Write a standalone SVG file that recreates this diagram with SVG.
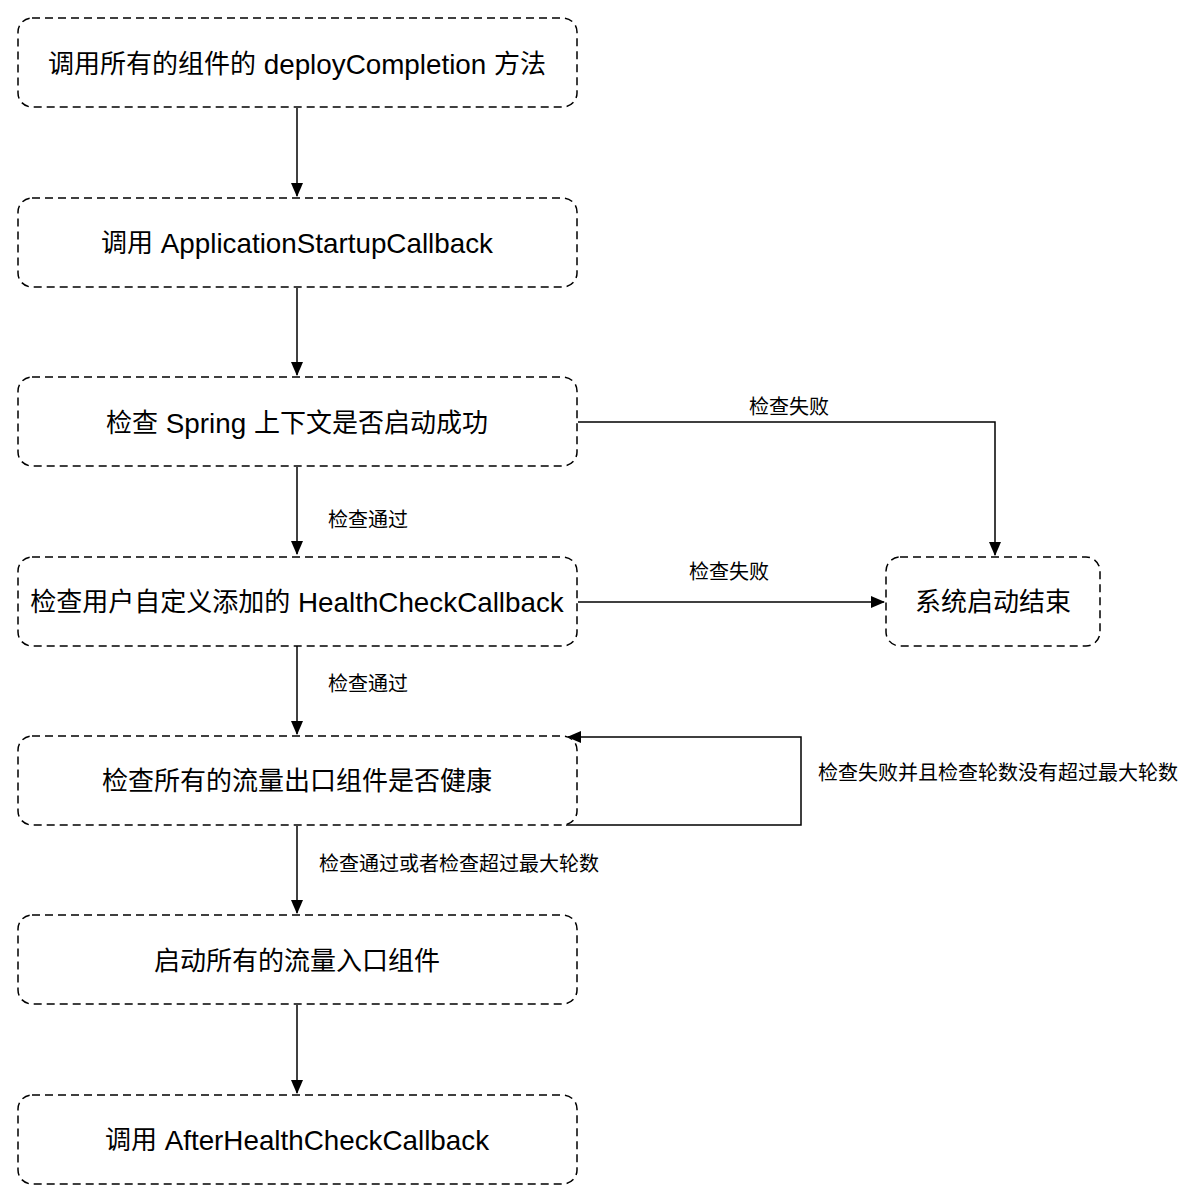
<svg xmlns="http://www.w3.org/2000/svg" width="1200" height="1203" viewBox="0 0 1200 1203">
<defs>
<style>
.box{fill:#fff;stroke:#000;stroke-width:1.5;stroke-dasharray:8 5}
.t{font-family:"Liberation Sans","Noto Sans CJK SC",sans-serif;font-size:26px;fill:#000;text-anchor:middle;dominant-baseline:central}
.la{font-size:27.8px}
.l{font-family:"Liberation Sans","Noto Sans CJK SC",sans-serif;font-size:20px;fill:#000;dominant-baseline:central}
.e{fill:none;stroke:#000;stroke-width:1.5}
</style>
<marker id="ah" markerWidth="14" markerHeight="14" viewBox="0 0 14 14" refX="13" refY="7" orient="auto" markerUnits="userSpaceOnUse">
<path d="M0,1 L14,7 L0,13 Z" fill="#000"/>
</marker>
</defs>
<rect width="1200" height="1203" fill="#fff"/>
<g id="connectors">
<path class="e" d="M297,108 V196" marker-end="url(#ah)"/>
<path class="e" d="M297,288 V375" marker-end="url(#ah)"/>
<path class="e" d="M297,467 V554" marker-end="url(#ah)"/>
<path class="e" d="M297,646 V734" marker-end="url(#ah)"/>
<path class="e" d="M297,826 V913" marker-end="url(#ah)"/>
<path class="e" d="M297,1005 V1093" marker-end="url(#ah)"/>
<path class="e" d="M578,422 H995 V555" marker-end="url(#ah)"/>
<path class="e" d="M578,602 H884" marker-end="url(#ah)"/>
<path class="e" d="M566,825 H801 V737 H568" marker-end="url(#ah)"/>
<text class="l" x="789" y="407" text-anchor="middle">检查失败</text>
<text class="l" x="729" y="572" text-anchor="middle">检查失败</text>
<text class="l" x="328" y="520">检查通过</text>
<text class="l" x="328" y="684">检查通过</text>
<text class="l" x="319" y="864">检查通过或者检查超过最大轮数</text>
<text class="l" x="818" y="773">检查失败并且检查轮数没有超过最大轮数</text>
</g>
<g id="n1"><rect class="box" x="18" y="18" width="559" height="89" rx="14"/><text class="t" x="297" y="64">调用所有的组件的<tspan class="la"> deployCompletion </tspan>方法</text></g>
<g id="n2"><rect class="box" x="18" y="198" width="559" height="89" rx="14"/><text class="t" x="297" y="243">调用<tspan class="la"> ApplicationStartupCallback</tspan></text></g>
<g id="n3"><rect class="box" x="18" y="377" width="559" height="89" rx="14"/><text class="t" x="297" y="423">检查<tspan class="la"> Spring </tspan>上下文是否启动成功</text></g>
<g id="n4"><rect class="box" x="18" y="557" width="559" height="89" rx="14"/><text class="t" x="297" y="602">检查用户自定义添加的<tspan class="la"> HealthCheckCallback</tspan></text></g>
<g id="n5"><rect class="box" x="18" y="736" width="559" height="89" rx="14"/><text class="t" x="297" y="781">检查所有的流量出口组件是否健康</text></g>
<g id="n6"><rect class="box" x="18" y="915" width="559" height="89" rx="14"/><text class="t" x="297" y="961">启动所有的流量入口组件</text></g>
<g id="n7"><rect class="box" x="18" y="1095" width="559" height="89" rx="14"/><text class="t" x="297" y="1140">调用<tspan class="la"> AfterHealthCheckCallback</tspan></text></g>
<g id="n8"><rect class="box" x="886" y="557" width="214" height="89" rx="14"/><text class="t" x="993" y="602">系统启动结束</text></g>
</svg>
